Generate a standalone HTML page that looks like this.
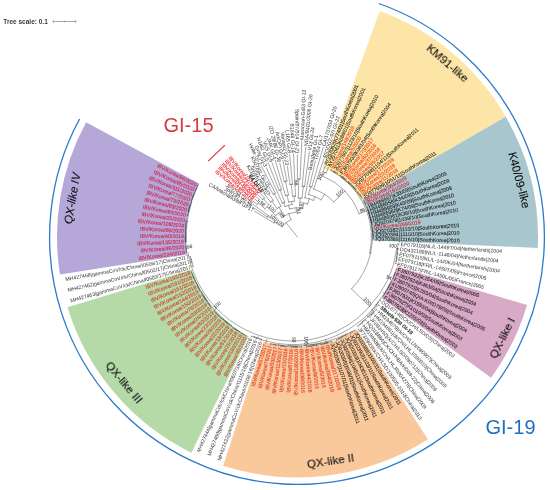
<!DOCTYPE html>
<html lang="en"><head><meta charset="utf-8"><title>Phylogenetic tree</title>
<style>html,body{margin:0;padding:0;background:#fff}svg{display:block}text{white-space:pre}</style></head>
<body>
<svg width="550" height="490" viewBox="0 0 550 490" role="img" aria-label="Circular phylogenetic tree">
<rect width="550" height="490" fill="#fff"/>
<defs><filter id="soft" x="-5%" y="-5%" width="110%" height="110%"><feGaussianBlur stdDeviation="0.5"/></filter></defs>
<g id="ranges">
<path d="M322.67 167.84L379.76 11A240.5 240.5 0 0 1 505.78 116.75L361.24 200.2A73.6 73.6 0 0 0 322.67 167.84Z" fill="#fce5a6"/>
<path d="M362.28 199.6L505.78 116.75A240.5 240.5 0 0 1 537.75 247.91L372.22 240.39A74.8 74.8 0 0 0 362.28 199.6Z" fill="#a8c6cd"/>
<path d="M397.41 266.59L527.04 304.99A239.4 239.4 0 0 1 491.18 377.72L381.8 298.25A104.2 104.2 0 0 0 397.41 266.59Z" fill="#d9a9c8"/>
<path d="M357.09 329.46L427.78 439.16A240.5 240.5 0 0 1 223.18 465.73L263.51 341.62A110 110 0 0 0 357.09 329.46Z" fill="#f9c99c"/>
<path d="M248.58 336.42L191.32 452.79A240.5 240.5 0 0 1 67.51 307.32L191.54 269.39A110.8 110.8 0 0 0 248.58 336.42Z" fill="#b6daa7"/>
<path d="M187.27 254.46L59.96 274.62A240.5 240.5 0 0 1 86.14 122.24L199.42 183.75A111.6 111.6 0 0 0 187.27 254.46Z" fill="#b5a8d9"/>
</g>
<path d="M378.77 3.5A247.4 247.4 0 1 1 79.58 118.95" fill="none" stroke="#2b7bcb" stroke-width="1.3"/>
<path id="branches" d="M273.91 222.86L254.61 211.29M267.52 217.07L252.53 207.1M268.49 215.69L253.17 204.44M267.52 217.07A36 36 0 0 1 268.49 215.69M274.96 221.24L268 216.37M273.91 222.86A27.5 27.5 0 0 1 274.96 221.24M281.98 226.94L274.42 222.04M257.08 204.29L253.19 201.14M257.53 201.44L254.92 199.11M259.24 199.61L256.73 197.16M257.53 201.44A53.5 53.5 0 0 1 259.24 199.61M259.47 201.54L258.37 200.51M257.08 204.29A52 52 0 0 1 259.47 201.54M265.04 208.8L258.25 202.89M262.73 199.69L258.64 195.3M264.51 198.1L260.63 193.53M262.73 199.69A51 51 0 0 1 264.51 198.1M268.93 204.86L263.61 198.89M265.04 208.8A43 43 0 0 1 268.93 204.86M275.81 215.56L266.92 206.77M270.64 202.15L263.32 192.64M267.72 194.37L267.72 194.37M269.74 193.03L268.14 190.49M267.72 194.37A52 52 0 0 1 269.74 193.03M273.15 200.35L268.72 193.69M270.64 202.15A44 44 0 0 1 273.15 200.35M277.12 208.55L271.88 201.23M273.31 194.39L269.36 187.43M275.33 193.3L261.44 165.92M273.31 194.39A49 49 0 0 1 275.33 193.3M280.94 206.17L274.31 193.83M277.12 208.55A35 35 0 0 1 280.94 206.17M281.37 211.11L278.99 207.29M275.81 215.56A30.5 30.5 0 0 1 281.37 211.11M281.89 217.47L278.46 213.17M282.32 203.26L266.32 167.69M279.14 190.49L268.02 162.31M281.34 189.68L272.29 163.19M279.14 190.49A50 50 0 0 1 281.34 189.68M284.72 202.28L280.24 190.08M282.32 203.26A37 37 0 0 1 284.72 202.28M285.03 206.45L283.51 202.75M285.52 195.7L275.21 160.17M284.19 181.57L279.83 163.39M286.8 181.01L282.86 160.39M284.19 181.57A57 57 0 0 1 286.8 181.01M288.44 194.96L285.49 181.28M285.52 195.7A43 43 0 0 1 288.44 194.96M288.69 202.1L286.97 195.31M290 184.53L287.39 166.32M292.46 184.24L289.6 154.38M290 184.53A53 53 0 0 1 292.46 184.24M292.65 196.29L291.22 184.37M295.51 196.05L293.47 154.1M292.65 196.29A41 41 0 0 1 295.51 196.05M294.49 201.13L294.08 196.14M288.69 202.1A36 36 0 0 1 294.49 201.13M292.06 204.45L291.57 201.49M285.03 206.45A33 33 0 0 1 292.06 204.45M289.5 208.81L288.49 205.25M297.4 179L297.36 155M300.11 179.06L301.82 141.1M297.4 179A58 58 0 0 1 300.11 179.06M298.34 198.01L298.76 179.01M302.18 186.21L305.75 147.38M304.54 186.49L309.38 151.82M302.18 186.21A51 51 0 0 1 304.54 186.49M301.98 198.26L303.36 186.34M298.34 198.01A39 39 0 0 1 301.98 198.26M299.86 202.58L300.17 198.09M304.87 197.69L309.85 171.15M309.46 186.39L315.44 161.09M311.82 187.01L323.1 147.59M309.46 186.39A52 52 0 0 1 311.82 187.01M308.62 194.43L310.64 186.69M313.69 189.06L323.74 159.31M322.97 171.8L325.08 166.39M325.97 173.05L328.33 167.75M322.97 171.8A70 70 0 0 1 325.97 173.05M322.93 176.1L324.48 172.41M331.07 170.16L331.52 169.26M334.34 171.44L334.63 170.92M337.35 173.23L337.67 172.72M334.34 171.44A75.2 75.2 0 0 1 337.35 173.23M335.65 172.66L335.86 172.32M331.07 170.16A74.8 74.8 0 0 1 335.65 172.66M333.14 171.81L333.38 171.37M340.16 175.31L340.62 174.66M343.17 177.13L343.47 176.73M345.9 179.32L346.22 178.93M343.17 177.13A75.3 75.3 0 0 1 345.9 179.32M344.36 178.44L344.55 178.21M340.16 175.31A75 75 0 0 1 344.36 178.44M342.05 177.16L342.29 176.84M348.53 181.63L348.87 181.26M351.05 184.07L351.41 183.71M348.53 181.63A75.3 75.3 0 0 1 351.05 184.07M349.67 182.98L349.81 182.83M353.46 186.61L353.83 186.28M355.74 189.27L356.13 188.96M353.46 186.61A75.3 75.3 0 0 1 355.74 189.27M354.46 188.06L354.62 187.93M349.67 182.98A75.1 75.1 0 0 1 354.46 188.06M351.98 185.6L352.13 185.46M357.82 192.09L358.3 191.74M360.09 194.78L360.34 194.61M361.99 197.74L362.25 197.58M360.09 194.78A75.5 75.5 0 0 1 361.99 197.74M360.81 196.41L361.06 196.25M357.82 192.09A75.2 75.2 0 0 1 360.81 196.41M359.1 194.4L359.35 194.23M351.98 185.6A74.9 74.9 0 0 1 359.1 194.4M355.48 190.05L355.71 189.86M342.05 177.16A74.6 74.6 0 0 1 355.48 190.05M348.96 183.4L349.17 183.19M333.14 171.81A74.3 74.3 0 0 1 348.96 183.4M341.26 177.32L341.43 177.08M363.85 200.76L364.11 200.62M365.49 203.95L365.76 203.82M363.85 200.76A75.6 75.6 0 0 1 365.49 203.95M364.33 202.53L364.69 202.35M366.98 207.21L367.26 207.09M368.41 210.5L368.6 210.43M369.59 213.89L369.78 213.83M368.41 210.5A75.7 75.7 0 0 1 369.59 213.89M368.92 212.22L369.02 212.19M366.98 207.21A75.6 75.6 0 0 1 368.92 212.22M367.9 209.73L368 209.7M370.5 217.36L370.79 217.28M371.45 220.82L371.65 220.78M372.13 224.34L372.33 224.31M371.45 220.82A75.7 75.7 0 0 1 372.13 224.34M371.72 222.6L371.81 222.58M370.5 217.36A75.6 75.6 0 0 1 371.72 222.6M371.06 219.99L371.16 219.97M367.9 209.73A75.5 75.5 0 0 1 371.06 219.99M369.52 214.85L369.66 214.81M372.45 227.92L372.85 227.87M372.95 231.47L373.2 231.45M373.22 235.05L373.37 235.05M373.23 238.64L373.38 238.64M373.22 235.05A75.75 75.75 0 0 1 373.23 238.64M373.15 236.85L373.25 236.85M372.95 231.47A75.65 75.65 0 0 1 373.15 236.85M372.95 234.16L373.1 234.16M372.45 227.92A75.5 75.5 0 0 1 372.95 234.16M372.61 231.05L372.76 231.04M369.52 214.85A75.35 75.35 0 0 1 372.61 231.05M371.36 222.89L371.51 222.86M364.33 202.53A75.2 75.2 0 0 1 371.36 222.89M368.39 212.52L368.58 212.46M398.06 244.01L399.25 244.1M397.9 248.92L398.79 249.02M397.49 253.82L398.09 253.92M396.85 258.72L397.15 258.78M395.68 263.51L395.97 263.59M396.85 258.72A101.7 101.7 0 0 1 395.68 263.51M396.01 261.05L396.3 261.12M397.49 253.82A101.4 101.4 0 0 1 396.01 261.05M396.52 257.39L396.82 257.45M397.9 248.92A101.1 101.1 0 0 1 396.52 257.39M397 253.12L397.3 253.17M398.06 244.01A100.8 100.8 0 0 1 397 253.12M396.74 248.48L397.63 248.58M396.42 268.94L396.66 269.01M394.85 273.74L394.99 273.8M392.95 278.43L393.08 278.49M394.85 273.74A104.05 104.05 0 0 1 392.95 278.43M393.83 276.06L393.92 276.1M396.42 268.94A103.95 103.95 0 0 1 393.83 276.06M395.1 272.49L395.19 272.52M390.8 283.01L390.95 283.09M388.46 287.49L388.6 287.57M390.8 283.01A104.03 104.03 0 0 1 388.46 287.49M389.58 285.23L389.66 285.27M385.89 291.85L386.04 291.94M383.12 296.08L383.26 296.18M385.89 291.85A104.03 104.03 0 0 1 383.12 296.08M384.47 293.94L384.53 293.98M389.58 285.23A103.95 103.95 0 0 1 384.47 293.94M387.05 289.6L387.13 289.65M395.1 272.49A103.85 103.85 0 0 1 387.05 289.6M391.33 281.16L391.46 281.23M380.28 300.12L381 300.67M378.42 304.84L380.11 306.26M376.38 309.6L377.48 310.61M373.22 313.45L373.99 314.23M369.6 316.87L370.34 317.68M373.22 313.45A107.6 107.6 0 0 1 369.6 316.87M371.16 314.89L371.43 315.18M376.38 309.6A107.2 107.2 0 0 1 371.16 314.89M373.39 311.87L373.81 312.29M365.58 319.81L366.53 320.97M361.92 323.19L362.58 324.07M357.86 326.07L358.48 326.98M361.92 323.19A107.6 107.6 0 0 1 357.86 326.07M359.68 324.33L359.91 324.65M365.58 319.81A107.2 107.2 0 0 1 359.68 324.33M362.3 321.64L362.67 322.12M373.39 311.87A106.6 106.6 0 0 1 362.3 321.64M367.35 316.2L368.01 316.95M378.42 304.84A105.6 105.6 0 0 1 367.35 316.2M372.03 309.68L373.1 310.73M380.28 300.12A104.1 104.1 0 0 1 372.03 309.68M376 304.76L376.3 305.03M391.33 281.16A103.7 103.7 0 0 1 376 304.76M383.04 292.56L384.47 293.49M266.93 339.12L265.73 343.15M354.65 330.4L355.07 331.08M350.23 332.97L350.62 333.67M354.65 330.4A109.5 109.5 0 0 1 350.23 332.97M352.31 331.45L352.46 331.71M345.7 335.32L346.05 336.04M341.18 337.74L341.38 338.2M336.43 339.67L336.61 340.13M341.18 337.74A109.8 109.8 0 0 1 336.43 339.67M338.71 338.45L338.82 338.73M345.7 335.32A109.5 109.5 0 0 1 338.71 338.45M342.11 336.67L342.23 336.95M352.31 331.45A109.2 109.2 0 0 1 342.11 336.67M347 333.66L347.28 334.2M331.6 341.37L331.76 341.85M326.78 343.14L326.96 343.81M321.79 344.39L321.95 345.07M326.78 343.14A110.1 110.1 0 0 1 321.79 344.39M324.22 343.5L324.29 343.79M331.6 341.37A109.8 109.8 0 0 1 324.22 343.5M327.85 342.21L327.93 342.5M316.71 345.11L316.88 346.09M311.68 346.18L311.77 346.88M306.57 346.73L306.63 347.42M311.68 346.18A110.1 110.1 0 0 1 306.57 346.73M309.1 346.19L309.13 346.48M316.71 345.11A109.8 109.8 0 0 1 309.1 346.19M312.87 345.42L312.91 345.71M327.85 342.21A109.5 109.5 0 0 1 312.87 345.42M320.31 343.59L320.41 344.08M301.43 346.73L301.47 347.73M296.31 347.09L296.3 347.79M291.17 346.92L291.13 347.62M296.31 347.09A110.1 110.1 0 0 1 291.17 346.92M293.75 346.74L293.74 347.04M301.43 346.73A109.8 109.8 0 0 1 293.75 346.74M297.59 346.5L297.59 346.8M286.05 346.5L285.98 347.2M280.96 345.85L280.85 346.54M286.05 346.5A110.1 110.1 0 0 1 280.96 345.85M283.54 345.91L283.5 346.21M275.9 344.96L275.76 345.65M270.88 343.83L270.71 344.51M275.9 344.96A110.1 110.1 0 0 1 270.88 343.83M273.45 344.13L273.38 344.43M283.54 345.91A109.8 109.8 0 0 1 273.45 344.13M278.53 344.84L278.47 345.14M297.59 346.5A109.5 109.5 0 0 1 278.53 344.84M288.06 345.59L288.02 346.09M320.31 343.59A109 109 0 0 1 288.06 345.59M304.24 345.39L304.26 345.79M347 333.66A108.6 108.6 0 0 1 304.24 345.39M325.7 339.8L326.23 341.73M261.52 339.36L260.92 341.06M256.38 338.27L256 339.2M251.6 336.19L251.18 337.1M256.38 338.27A109.3 109.3 0 0 1 251.6 336.19M254.29 336.53L253.98 337.26M261.52 339.36A108.5 108.5 0 0 1 254.29 336.53M258.32 336.89L257.88 338.01M246.06 335.81L245.88 336.17M241.63 333.38L241.43 333.72M246.06 335.81A111.4 111.4 0 0 1 241.63 333.38M243.95 334.4L243.83 334.62M237.32 330.74L237.1 331.08M233.13 327.92L232.9 328.24M237.32 330.74A111.4 111.4 0 0 1 233.13 327.92M235.35 329.15L235.21 329.35M243.95 334.4A111.15 111.15 0 0 1 235.35 329.15M239.72 331.66L239.59 331.87M229.07 324.9L228.82 325.22M225.15 321.71L224.89 322.01M229.07 324.9A111.4 111.4 0 0 1 225.15 321.71M227.25 323.14L227.09 323.33M221.38 318.34L221.11 318.63M217.59 314.98L217.49 315.08M214.14 311.27L214.03 311.37M217.59 314.98A111.65 111.65 0 0 1 214.14 311.27M216.03 312.97L215.84 313.15M221.38 318.34A111.4 111.4 0 0 1 216.03 312.97M218.84 315.53L218.66 315.7M227.25 323.14A111.15 111.15 0 0 1 218.84 315.53M223.11 319.25L222.95 319.44M239.72 331.66A110.9 110.9 0 0 1 223.11 319.25M231.37 325.52L231.13 325.84M211.05 307.26L210.74 307.51M207.95 303.26L207.63 303.5M211.05 307.26A111.4 111.4 0 0 1 207.95 303.26M209.67 305.12L209.48 305.28M205.04 299.13L204.7 299.36M202.31 294.87L201.97 295.08M205.04 299.13A111.4 111.4 0 0 1 202.31 294.87M203.86 296.88L203.65 297.02M209.67 305.12A111.15 111.15 0 0 1 203.86 296.88M206.88 300.93L206.67 301.07M199.79 290.5L199.44 290.69M197.46 286.01L197.1 286.19M199.79 290.5A111.4 111.4 0 0 1 197.46 286.01M198.82 288.15L198.6 288.27M195.34 281.42L194.97 281.58M193.2 276.83L193.06 276.88M191.5 272.06L191.35 272.1M193.2 276.83A111.65 111.65 0 0 1 191.5 272.06M192.55 274.37L192.32 274.45M195.34 281.42A111.4 111.4 0 0 1 192.55 274.37M194.12 277.83L193.89 277.92M198.82 288.15A111.15 111.15 0 0 1 194.12 277.83M196.57 282.95L196.34 283.05M206.88 300.93A110.9 110.9 0 0 1 196.57 282.95M201.65 291.98L201.3 292.18M231.37 325.52A110.5 110.5 0 0 1 201.65 291.98M216.21 309.01L214.79 310.27M193.03 266.3L192.26 266.52M191.29 261.52L191 261.59M190.27 256.55L189.97 256.61M191.29 261.52A109 109 0 0 1 190.27 256.55M191.24 258.94L190.75 259.04M193.03 266.3A108.5 108.5 0 0 1 191.24 258.94M190.03 263.13L192.07 262.64M186.5 251.93L186.1 251.98M185.92 246.73L185.52 246.76M186.5 251.93A112 112 0 0 1 185.92 246.73M186.38 249.31L186.18 249.33M185.39 241.51L185.19 241.52M185.3 236.27L185.1 236.26M185.39 241.51A112.2 112.2 0 0 1 185.3 236.27M185.52 238.88L185.32 238.89M185.46 231.02L185.26 231.01M185.66 225.77L185.66 225.77M186.31 220.56L186.31 220.56M185.66 225.77A112.4 112.4 0 0 1 186.31 220.56M186.15 223.19L185.95 223.16M185.46 231.02A112.2 112.2 0 0 1 186.15 223.19M185.94 227.12L185.74 227.1M185.52 238.88A112 112 0 0 1 185.94 227.12M185.77 233L185.57 233M186.38 249.31A111.8 111.8 0 0 1 185.77 233M186.18 241.15L185.78 241.17M187.59 215.46L187.2 215.38M188.52 210.3L188.33 210.25M189.89 205.23L189.7 205.18M188.52 210.3A112.2 112.2 0 0 1 189.89 205.23M189.37 207.81L189.18 207.76M187.59 215.46A112 112 0 0 1 189.37 207.81M188.61 211.66L188.41 211.62M191.49 200.24L191.3 200.17M193.33 195.33L193.14 195.25M191.49 200.24A112.2 112.2 0 0 1 193.33 195.33M192.57 197.84L192.38 197.77M195.39 190.5L195.21 190.42M197.67 185.78L197.49 185.69M195.39 190.5A112.2 112.2 0 0 1 197.67 185.78M196.68 188.22L196.5 188.13M192.57 197.84A112 112 0 0 1 196.68 188.22M194.7 193.06L194.51 192.98M188.61 211.66A111.8 111.8 0 0 1 194.7 193.06M191.62 202.35L191.24 202.23M186.18 241.15A111.4 111.4 0 0 1 191.62 202.35M187.97 221.62L187.18 221.51M396.74 248.48A99.9 99.9 0 0 1 369.48 306.28M351.54 289.01L369.48 306.28M368.39 212.52A75 75 0 0 1 351.54 289.01M369.77 252.93L370.74 253.14M341.26 177.32A74 74 0 0 1 369.77 252.93M359.26 213.71L366.74 210.89M322.93 176.1A66 66 0 0 1 359.26 213.71M333.9 201.85L344.98 191.16M313.69 189.06A50.6 50.6 0 0 1 333.9 201.85M321.03 199.82L324.56 194.24M308.62 194.43A44 44 0 0 1 321.03 199.82M313.44 200.31L315.03 196.64M304.87 197.69A40 40 0 0 1 313.44 200.31M307.62 204.02L309.23 198.76M299.86 202.58A34.5 34.5 0 0 1 307.62 204.02M302.83 208.19L303.78 203.08M289.5 208.81A29.3 29.3 0 0 1 302.83 208.19M296.33 212.03L296.13 207.73M281.89 217.47A25 25 0 0 1 296.33 212.03M290.98 219.69L288.68 213.61M281.98 226.94A18.5 18.5 0 0 1 290.98 219.69M297.5 237L285.89 222.59M371.15 304.49L368.85 307.17L366.44 309.77L363.94 312.28L361.35 314.71L358.67 317.05L355.9 319.3L353.05 321.45L350.12 323.5L347.12 325.45L344.04 327.3L340.89 329.04L337.68 330.67L334.41 332.19L331.08 333.59L327.7 334.88L324.27 336.05L320.8 337.09L317.28 338.02L313.73 338.82L310.14 339.5L306.53 340.05L302.89 340.47L299.24 340.77L295.57 340.93L291.89 340.97L288.21 340.87L284.53 340.65L280.85 340.29L277.18 339.81L273.53 339.19L269.89 338.44L266.27 337.56L262.69 336.56L259.13 335.42L255.61 334.16L252.14 332.78L248.71 331.26L245.33 329.63L242 327.87L238.73 326L235.53 324.01L232.39 321.9L229.33 319.68L226.34 317.34L223.43 314.9L220.61 312.36L217.87 309.71L215.22 306.96L212.67 304.12L210.22 301.18L207.87 298.15L205.62 295.04L203.48 291.85L201.46 288.57L199.55 285.22L197.75 281.8L196.07 278.32L194.52 274.77L193.09 271.16L191.79 267.5L190.61 263.79L189.57 260.03L188.66 256.24L187.88 252.41M377.17 303.85L374.89 306.68L372.51 309.44L370.03 312.11L367.46 314.7L364.8 317.2L362.04 319.61L359.2 321.92L356.28 324.14L353.27 326.26L350.19 328.27L347.04 330.18L343.82 331.97L340.53 333.66L337.19 335.23L333.78 336.69L330.32 338.02L326.82 339.24L323.26 340.34L319.67 341.31L316.04 342.16L312.38 342.88L308.69 343.47L304.98 343.93L301.25 344.27L297.5 344.47L293.74 344.55L289.98 344.49L286.22 344.3L282.47 343.98L278.72 343.52L274.98 342.94L271.26 342.22L267.57 341.38L263.9 340.4L260.27 339.3L256.67 338.06" fill="none" stroke="#3a3a3a" stroke-width="0.45" stroke-linecap="square"/>
<g id="support" font-family="'Liberation Sans', Arial, sans-serif" font-size="5" fill="#222">
<text transform="translate(268.82 216.94) rotate(34.96)" text-anchor="start" dy="-0.6">100</text>
<text transform="translate(275.26 222.59) rotate(32.95)" text-anchor="start" dy="-0.6">100</text>
<text transform="translate(259 203.55) rotate(40.99)" text-anchor="start" dy="-0.6">98</text>
<text transform="translate(267.63 207.47) rotate(44.68)" text-anchor="start" dy="-0.6">100</text>
<text transform="translate(279.09 213.95) rotate(51.38)" text-anchor="start" dy="-0.6">98</text>
<text transform="translate(298.73 180.01) rotate(271.24)" text-anchor="end" dy="-0.6">99</text>
<text transform="translate(324.09 173.33) rotate(292.67)" text-anchor="end" dy="-0.6">100</text>
<text transform="translate(396.64 248.46) rotate(6.6)" text-anchor="end" dy="-0.6">100</text>
<text transform="translate(390.56 280.8) rotate(25.21)" text-anchor="end" dy="-0.6">94</text>
<text transform="translate(304.2 344.79) rotate(86.44)" text-anchor="end" dy="-0.6">100</text>
<text transform="translate(296.28 342.59) rotate(-89.34)" text-anchor="start" dy="-0.6">95</text>
<text transform="translate(215.54 309.61) rotate(-41.54)" text-anchor="start" dy="-0.6">100</text>
<text transform="translate(187.17 249.22) rotate(-6.32)" text-anchor="start" dy="-0.6">96</text>
<text transform="translate(368.76 305.58) rotate(43.91)" text-anchor="end" dy="-0.6">100</text>
<text transform="translate(365.81 211.24) rotate(339.34)" text-anchor="end" dy="-0.6">96</text>
<text transform="translate(344.26 191.85) rotate(316)" text-anchor="end" dy="-0.6">100</text>
<text transform="translate(303.6 204.06) rotate(280.49)" text-anchor="end" dy="-0.6">59</text>
<text transform="translate(296.18 208.73) rotate(87.32)" text-anchor="start" dy="-0.6">81</text>
</g>
<g id="labels" filter="url(#soft)" stroke-width="0.05" stroke="#1a1a1a" fill="#1a1a1a" font-family="'Liberation Sans', Arial, sans-serif" font-size="5.2">
<text transform="translate(253.5 210.62) rotate(30.94)" text-anchor="end" dy="1.8" fill="#333" stroke="none">CA/Machado/88 GI-17</text>
<text transform="translate(251.45 206.38) rotate(33.62)" text-anchor="end" dy="1.8" fill="#333" stroke="none">JP8147 GI-18</text>
<text transform="translate(252.13 203.67) rotate(36.3)" text-anchor="end" dy="1.8" fill="#333" stroke="none">JP9758 GI-18</text>
<text transform="translate(252.18 200.33) rotate(38.98)" text-anchor="end" dy="1.8" fill="#ee2e33" stroke="#ee2e33" stroke-width="0.12">IBV/Korea/240/2019</text>
<text transform="translate(253.94 198.25) rotate(41.66)" text-anchor="end" dy="1.8" fill="#ee2e33" stroke="#ee2e33" stroke-width="0.12">IBV/Korea/129/2019</text>
<text transform="translate(255.8 196.25) rotate(44.34)" text-anchor="end" dy="1.8" fill="#ee2e33" stroke="#ee2e33" stroke-width="0.12">IBV/Korea/236/2020</text>
<text transform="translate(257.75 194.35) rotate(47.02)" text-anchor="end" dy="1.8" fill="#ee2e33" stroke="#ee2e33" stroke-width="0.12">IBV/Korea/231/2020</text>
<text transform="translate(259.79 192.54) rotate(49.7)" text-anchor="end" dy="1.8" fill="#ee2e33" stroke="#ee2e33" stroke-width="0.12">IBV/Korea/107/2020</text>
<text transform="translate(262.52 191.61) rotate(52.38)" text-anchor="end" dy="1.8" font-weight="bold">B4 GI-15</text>
<text transform="translate(266.97 193.31) rotate(55.06)" text-anchor="end" dy="1.8" fill="#333" stroke="none">K210/01 GI-15</text>
<text transform="translate(267.45 189.39) rotate(57.74)" text-anchor="end" dy="1.8" fill="#333" stroke="none">K2/01 GI-15</text>
<text transform="translate(268.72 186.3) rotate(60.42)" text-anchor="end" dy="1.8" fill="#333" stroke="none">K507/01 GI-15</text>
<text transform="translate(260.85 164.76) rotate(63.1)" text-anchor="end" dy="1.8" fill="#333" stroke="none">Holte GI-2</text>
<text transform="translate(265.79 166.5) rotate(65.78)" text-anchor="end" dy="1.8" fill="#333" stroke="none">Gray GI-3</text>
<text transform="translate(267.54 161.1) rotate(68.46)" text-anchor="end" dy="1.8" fill="#333" stroke="none">N1/62 GI-5</text>
<text transform="translate(271.87 161.96) rotate(71.14)" text-anchor="end" dy="1.8" fill="#333" stroke="none">VicS GI-6</text>
<text transform="translate(274.85 158.92) rotate(73.82)" text-anchor="end" dy="1.8" fill="#333" stroke="none">JMK GI-4</text>
<text transform="translate(279.52 162.13) rotate(76.5)" text-anchor="end" dy="1.8" fill="#333" stroke="none">IZO 28/86 GI-16</text>
<text transform="translate(282.61 159.11) rotate(79.18)" text-anchor="end" dy="1.8" fill="#333" stroke="none">ArkDPI GI-9</text>
<text transform="translate(287.21 165.03) rotate(81.86)" text-anchor="end" dy="1.8" fill="#333" stroke="none">Variant2 GI-23</text>
<text transform="translate(289.48 153.08) rotate(84.54)" text-anchor="end" dy="1.8" fill="#333" stroke="none">L165 GI-8</text>
<text transform="translate(293.41 152.8) rotate(87.22)" text-anchor="end" dy="1.8" fill="#333" stroke="none">B1648 GI-14</text>
<text transform="translate(297.35 153.7) rotate(89.9)" text-anchor="end" dy="1.8" fill="#333" stroke="none">Spain/97/314 GI-21</text>
<text transform="translate(301.88 139.8) rotate(272.58)" dy="1.8" fill="#333" stroke="none">Moroccan-G/83 GI-13</text>
<text transform="translate(305.87 146.08) rotate(275.26)" dy="1.8" fill="#333" stroke="none">NGA/B401/2006 GI-26</text>
<text transform="translate(309.56 150.54) rotate(277.94)" dy="1.8" fill="#333" stroke="none">V13 GI-24</text>
<text transform="translate(310.09 169.87) rotate(280.62)" dy="1.8" fill="#333" stroke="none">Beaudette GI-1</text>
<text transform="translate(315.74 159.83) rotate(283.3)" dy="1.8" fill="#333" stroke="none">TP/64 GI-7</text>
<text transform="translate(323.46 146.34) rotate(285.98)" dy="1.8" fill="#333" stroke="none">CA/1737/04 GI-25</text>
<text transform="translate(324.15 158.08) rotate(288.66)" dy="1.8" fill="#333" stroke="none">40GDGZ-97I GI-22</text>
<text transform="translate(325.55 165.18) rotate(291.33)" dy="1.8" stroke-width="0.07">AY257062|K774/01|SouthKorea|2001</text>
<text transform="translate(328.86 166.57) rotate(294)" dy="1.8" stroke-width="0.07">AY257061|K069/01|SouthKorea|2001</text>
<text transform="translate(332.1 168.1) rotate(296.67)" dy="1.8" fill="#ec4a24" stroke="#ec4a24" stroke-width="0.14">IBV/Korea/148/2019</text>
<text transform="translate(335.27 169.79) rotate(299.33)" dy="1.8" stroke-width="0.07">JQ977697|1123/10|SouthKorea|2010</text>
<text transform="translate(338.36 171.62) rotate(302)" dy="1.8" fill="#ec4a24" stroke="#ec4a24" stroke-width="0.14">IBV/Korea/5/2020</text>
<text transform="translate(341.35 173.59) rotate(304.67)" dy="1.8" stroke-width="0.07">FJ807932|K081/04|SouthKorea|2004</text>
<text transform="translate(344.26 175.7) rotate(307.33)" dy="1.8" fill="#ec4a24" stroke="#ec4a24" stroke-width="0.14">IBV/Korea/173/2017</text>
<text transform="translate(347.06 177.94) rotate(310)" dy="1.8" fill="#ec4a24" stroke="#ec4a24" stroke-width="0.14">IBV/Korea/80/2016</text>
<text transform="translate(349.75 180.31) rotate(312.67)" dy="1.8" fill="#ec4a24" stroke="#ec4a24" stroke-width="0.14">IBV/Korea/37/2016</text>
<text transform="translate(352.33 182.8) rotate(315.33)" dy="1.8" fill="#ec4a24" stroke="#ec4a24" stroke-width="0.14">IBV/Korea/55/2017</text>
<text transform="translate(354.8 185.41) rotate(318)" dy="1.8" stroke-width="0.07">JQ977698|1104/11|SouthKorea|2011</text>
<text transform="translate(357.13 188.13) rotate(320.67)" dy="1.8" fill="#ec4a24" stroke="#ec4a24" stroke-width="0.14">IBV/Korea/177/2018</text>
<text transform="translate(359.34 190.96) rotate(323.33)" dy="1.8" fill="#ec4a24" stroke="#ec4a24" stroke-width="0.14">IBV/Korea/22/2018</text>
<text transform="translate(361.42 193.89) rotate(326)" dy="1.8" fill="#ec4a24" stroke="#ec4a24" stroke-width="0.14">IBV/Korea/11/2018</text>
<text transform="translate(363.36 196.91) rotate(328.67)" dy="1.8" stroke-width="0.07">JQ977699|1051/11|SouthKorea|2011</text>
<text transform="translate(365.25 200) rotate(331.36)" dy="1.8" fill="#d03045" stroke="#d03045" stroke-width="0.14">IBV/Korea/264/2019</text>
<text transform="translate(366.93 203.25) rotate(334.07)" dy="1.8" fill="#d03045" stroke="#d03045" stroke-width="0.14">IBV/Korea/181/2020</text>
<text transform="translate(368.45 206.58) rotate(336.79)" dy="1.8" stroke-width="0.07">HM486957|K33/09|SouthKorea|2009</text>
<text transform="translate(369.82 209.97) rotate(339.51)" dy="1.8" stroke-width="0.07">HM486958|K34/09|SouthKorea|2009</text>
<text transform="translate(371.01 213.43) rotate(342.23)" dy="1.8" stroke-width="0.07">HM486959|K40/09|SouthKorea|2009</text>
<text transform="translate(372.05 216.94) rotate(344.94)" dy="1.8" stroke-width="0.07">HM486960|K74/09|SouthKorea|2010</text>
<text transform="translate(372.92 220.5) rotate(347.66)" dy="1.8" stroke-width="0.07">HM486961|K38/10|SouthKorea|2010</text>
<text transform="translate(373.61 224.09) rotate(350.38)" dy="1.8" stroke-width="0.07">JQ920379|1038/10|SouthKorea|2010</text>
<text transform="translate(374.14 227.71) rotate(353.09)" dy="1.8" fill="#d03045" stroke="#d03045" stroke-width="0.14">IBV/Korea/269/2019</text>
<text transform="translate(374.49 231.36) rotate(355.81)" dy="1.8" stroke-width="0.07">JQ920382|1110/10|SouthKorea|2010</text>
<text transform="translate(374.67 235.01) rotate(358.53)" dy="1.8" stroke-width="0.07">JQ920384|1115/10|SouthKorea|2010</text>
<text transform="translate(374.68 238.67) rotate(1.24)" dy="1.8" stroke-width="0.07">JQ920385|1116/10|SouthKorea|2010</text>
<text transform="translate(400.55 244.19) rotate(3.99)" dy="1.8" fill="#333" stroke="none">EF079116|NL/L-1449T/04|Netherlands|2004</text>
<text transform="translate(400.08 249.18) rotate(6.77)" dy="1.8" fill="#333" stroke="none">DQ431199|NL/L-1148/04|Netherlands|2004</text>
<text transform="translate(399.37 254.14) rotate(9.55)" dy="1.8" fill="#333" stroke="none">EF079115|NL/L-1449K/04|Netherlands|2004</text>
<text transform="translate(398.42 259.06) rotate(12.33)" dy="1.8" fill="#333" stroke="none">EF079118|FR/L-1450T/05|France|2005</text>
<text transform="translate(397.23 263.93) rotate(15.11)" dy="1.8" fill="#333" stroke="none">EF079117|FR/L-1450L/05|France|2005</text>
<text transform="translate(397.9 269.41) rotate(17.89)" dy="1.8" stroke-width="0.07">FJ807922|K154/05|SouthKorea|2005</text>
<text transform="translate(396.2 274.25) rotate(20.68)" dy="1.8" stroke-width="0.07">FJ807924|K463/04|SouthKorea|2004</text>
<text transform="translate(394.28 279.01) rotate(23.46)" dy="1.8" stroke-width="0.07">FJ807923|K283/04|SouthKorea|2004</text>
<text transform="translate(392.12 283.66) rotate(26.25)" dy="1.8" stroke-width="0.07">KU900740|QIA-KR/D79/05|SouthKorea|2005</text>
<text transform="translate(389.74 288.2) rotate(29.04)" dy="1.8" stroke-width="0.07">FJ807931|K1583/04|SouthKorea|2004</text>
<text transform="translate(387.14 292.63) rotate(31.82)" dy="1.8" stroke-width="0.07">FJ807927|K1019/03|SouthKorea|2003</text>
<text transform="translate(384.33 296.92) rotate(34.61)" dy="1.8" stroke-width="0.07">FJ807928|K1255/03|SouthKorea|2003</text>
<text transform="translate(382.03 301.45) rotate(37.32)" dy="1.8" fill="#333" stroke="none">DQ167148|CK/CH/LSD/03I|China|2003</text>
<text transform="translate(381.11 307.09) rotate(39.98)" dy="1.8" font-weight="bold">58HeN-93II GI-19</text>
<text transform="translate(378.44 311.49) rotate(42.62)" dy="1.8" fill="#333" stroke="none">HM194679|ck/CH/LLN/090907|China|2009</text>
<text transform="translate(374.91 315.15) rotate(45.27)" dy="1.8" fill="#333" stroke="none">HM194681|ck/CH/LHLJ/090910|China|2009</text>
<text transform="translate(371.21 318.65) rotate(47.93)" dy="1.8" fill="#333" stroke="none">JF893452|ck/CH/LSD/090712|China|2009</text>
<text transform="translate(367.36 321.97) rotate(50.57)" dy="1.8" fill="#333" stroke="none">HQ018884|CK/CH/HBA/HD09-22|China|2009</text>
<text transform="translate(363.35 325.11) rotate(53.22)" dy="1.8" fill="#333" stroke="none">HM194688|ck/CH/LHLJ/090427II|China|2009</text>
<text transform="translate(359.21 328.06) rotate(55.88)" dy="1.8" fill="#333" stroke="none">JF732903|ck/CH/LSD/100505-2010|China|2010</text>
<text transform="translate(355.75 332.19) rotate(58.54)" dy="1.8" stroke-width="0.07">JQ920389|1109/11|SouthKorea|2011</text>
<text transform="translate(351.25 334.81) rotate(61.21)" dy="1.8" stroke-width="0.07">JQ920390|1103/11|SouthKorea|2011</text>
<text transform="translate(346.62 337.21) rotate(63.88)" dy="1.8" stroke-width="0.07">JQ920393|1043/11|SouthKorea|2011</text>
<text transform="translate(341.9 339.39) rotate(66.56)" dy="1.8" stroke-width="0.07">JQ920394|1045/11|SouthKorea|2011</text>
<text transform="translate(337.07 341.35) rotate(69.23)" dy="1.8" stroke-width="0.07">JQ920395|1038/11|SouthKorea|2011</text>
<text transform="translate(332.16 343.08) rotate(71.91)" dy="1.8" stroke-width="0.07">JQ920397|1107/11|SouthKorea|2011</text>
<text transform="translate(327.31 345.06) rotate(74.58)" dy="1.8" fill="#e2452b" stroke="#e2452b" stroke-width="0.14">IBV/Korea/217/2018</text>
<text transform="translate(322.24 346.34) rotate(77.25)" dy="1.8" fill="#e2452b" stroke="#e2452b" stroke-width="0.14">IBV/Korea/064/2018</text>
<text transform="translate(317.11 347.37) rotate(79.93)" dy="1.8" fill="#e2452b" stroke="#e2452b" stroke-width="0.14">IBV/Korea/5/2016</text>
<text transform="translate(311.94 348.17) rotate(82.6)" dy="1.8" fill="#e2452b" stroke="#e2452b" stroke-width="0.14">IBV/Korea/9/2016</text>
<text transform="translate(306.74 348.72) rotate(85.27)" dy="1.8" fill="#e2452b" stroke="#e2452b" stroke-width="0.14">IBV/Korea/44/2016</text>
<text transform="translate(301.52 349.03) rotate(87.95)" dy="1.8" fill="#e2452b" stroke="#e2452b" stroke-width="0.14">IBV/Korea/38/2016</text>
<text transform="translate(296.28 349.09) rotate(-89.38)" text-anchor="end" dy="1.8" fill="#e2452b" stroke="#e2452b" stroke-width="0.14">IBV/Korea/165/2016</text>
<text transform="translate(291.06 348.91) rotate(-86.71)" text-anchor="end" dy="1.8" fill="#e2452b" stroke="#e2452b" stroke-width="0.14">IBV/Korea/87/2016</text>
<text transform="translate(285.84 348.49) rotate(-84.03)" text-anchor="end" dy="1.8" fill="#e2452b" stroke="#e2452b" stroke-width="0.14">IBV/Korea/73/2016</text>
<text transform="translate(280.66 347.83) rotate(-81.36)" text-anchor="end" dy="1.8" fill="#e2452b" stroke="#e2452b" stroke-width="0.14">IBV/Korea/113/2017</text>
<text transform="translate(275.5 346.92) rotate(-78.68)" text-anchor="end" dy="1.8" fill="#e2452b" stroke="#e2452b" stroke-width="0.14">IBV/Korea/33/2017</text>
<text transform="translate(270.4 345.78) rotate(-76.01)" text-anchor="end" dy="1.8" fill="#e2452b" stroke="#e2452b" stroke-width="0.14">IBV/Korea/76/2017</text>
<text transform="translate(265.36 344.39) rotate(-73.34)" text-anchor="end" dy="1.8" fill="#e2452b" stroke="#e2452b" stroke-width="0.14">IBV/Korea/37/2017</text>
<text transform="translate(260.49 342.29) rotate(-70.63)" text-anchor="end" dy="1.8" fill="#333" stroke="none">MH427432|gammaCoV/ck/China/I0108/16|China|2016</text>
<text transform="translate(255.51 340.4) rotate(-67.9)" text-anchor="end" dy="1.8" fill="#333" stroke="none">MH427460|gammaCoV/ck/China/I1115/16|China|2016</text>
<text transform="translate(250.63 338.28) rotate(-65.17)" text-anchor="end" dy="1.8" fill="#333" stroke="none">MH427444|gammaCoV/ck/China/I0607/16|China|2016</text>
<text transform="translate(245.28 337.32) rotate(-62.5)" text-anchor="end" dy="1.8" fill="#cc4a34" stroke="#cc4a34" stroke-width="0.14">IBV/Korea/40/2020</text>
<text transform="translate(240.78 334.85) rotate(-59.9)" text-anchor="end" dy="1.8" fill="#cc4a34" stroke="#cc4a34" stroke-width="0.14">IBV/Korea/183/2018</text>
<text transform="translate(236.4 332.17) rotate(-57.3)" text-anchor="end" dy="1.8" fill="#cc4a34" stroke="#cc4a34" stroke-width="0.14">IBV/Korea/25/2018</text>
<text transform="translate(232.14 329.31) rotate(-54.7)" text-anchor="end" dy="1.8" fill="#cc4a34" stroke="#cc4a34" stroke-width="0.14">IBV/Korea/61/2018</text>
<text transform="translate(228.02 326.25) rotate(-52.1)" text-anchor="end" dy="1.8" fill="#cc4a34" stroke="#cc4a34" stroke-width="0.14">IBV/Korea/18/2018</text>
<text transform="translate(224.05 323) rotate(-49.5)" text-anchor="end" dy="1.8" fill="#cc4a34" stroke="#cc4a34" stroke-width="0.14">IBV/Korea/22/2019</text>
<text transform="translate(220.22 319.58) rotate(-46.9)" text-anchor="end" dy="1.8" fill="#cc4a34" stroke="#cc4a34" stroke-width="0.14">IBV/Korea/29/2018</text>
<text transform="translate(216.56 315.99) rotate(-44.3)" text-anchor="end" dy="1.8" fill="#cc4a34" stroke="#cc4a34" stroke-width="0.14">IBV/Korea/23/2018</text>
<text transform="translate(213.06 312.24) rotate(-41.7)" text-anchor="end" dy="1.8" fill="#cc4a34" stroke="#cc4a34" stroke-width="0.14">IBV/Korea/60/2019</text>
<text transform="translate(209.73 308.33) rotate(-39.1)" text-anchor="end" dy="1.8" fill="#cc4a34" stroke="#cc4a34" stroke-width="0.14">IBV/Korea/24/2019</text>
<text transform="translate(206.58 304.27) rotate(-36.5)" text-anchor="end" dy="1.8" fill="#cc4a34" stroke="#cc4a34" stroke-width="0.14">IBV/Korea/28/2019</text>
<text transform="translate(203.63 300.08) rotate(-33.9)" text-anchor="end" dy="1.8" fill="#cc4a34" stroke="#cc4a34" stroke-width="0.14">IBV/Korea/76/2019</text>
<text transform="translate(200.86 295.76) rotate(-31.3)" text-anchor="end" dy="1.8" fill="#cc4a34" stroke="#cc4a34" stroke-width="0.14">IBV/Korea/150/2019</text>
<text transform="translate(198.29 291.31) rotate(-28.7)" text-anchor="end" dy="1.8" fill="#cc4a34" stroke="#cc4a34" stroke-width="0.14">IBV/Korea/144/2019</text>
<text transform="translate(195.93 286.76) rotate(-26.1)" text-anchor="end" dy="1.8" fill="#cc4a34" stroke="#cc4a34" stroke-width="0.14">IBV/Korea/152/2018</text>
<text transform="translate(193.78 282.1) rotate(-23.5)" text-anchor="end" dy="1.8" fill="#cc4a34" stroke="#cc4a34" stroke-width="0.14">IBV/Korea/151/2018</text>
<text transform="translate(191.84 277.35) rotate(-20.9)" text-anchor="end" dy="1.8" fill="#cc4a34" stroke="#cc4a34" stroke-width="0.14">IBV/Korea/191/2018</text>
<text transform="translate(190.12 272.51) rotate(-18.3)" text-anchor="end" dy="1.8" fill="#cc4a34" stroke="#cc4a34" stroke-width="0.14">IBV/Korea/193/2018</text>
<text transform="translate(191.01 266.87) rotate(-15.67)" text-anchor="end" dy="1.8" fill="#333" stroke="none">MH427463|gammaCoV/ck/China/I0503/17|China|2017</text>
<text transform="translate(189.73 261.88) rotate(-13)" text-anchor="end" dy="1.8" fill="#333" stroke="none">MH427462|gammaCoV/ck/China/I0502/17|China|2017</text>
<text transform="translate(188.69 256.84) rotate(-10.33)" text-anchor="end" dy="1.8" fill="#333" stroke="none">MH427468|gammaCoV/ck/China/I0506/17|China|2017</text>
<text transform="translate(184.81 252.16) rotate(-7.66)" text-anchor="end" dy="1.8" fill="#cf2a50" stroke="#cf2a50" stroke-width="0.14">IBV/Korea/224/2019</text>
<text transform="translate(184.23 246.87) rotate(-4.98)" text-anchor="end" dy="1.8" fill="#cf2a50" stroke="#cf2a50" stroke-width="0.14">IBV/Korea/46/2020</text>
<text transform="translate(183.89 241.57) rotate(-2.3)" text-anchor="end" dy="1.8" fill="#cf2a50" stroke="#cf2a50" stroke-width="0.14">IBV/Korea/135/2019</text>
<text transform="translate(183.8 236.26) rotate(0.38)" text-anchor="end" dy="1.8" fill="#cf2a50" stroke="#cf2a50" stroke-width="0.14">IBV/Korea/40/2019</text>
<text transform="translate(183.96 230.94) rotate(3.05)" text-anchor="end" dy="1.8" fill="#cf2a50" stroke="#cf2a50" stroke-width="0.14">IBV/Korea/68/2020</text>
<text transform="translate(184.37 225.64) rotate(5.73)" text-anchor="end" dy="1.8" fill="#cf2a50" stroke="#cf2a50" stroke-width="0.14">IBV/Korea/108/2019</text>
<text transform="translate(185.02 220.37) rotate(8.41)" text-anchor="end" dy="1.8" fill="#cf2a50" stroke="#cf2a50" stroke-width="0.14">IBV/Korea/25/2020</text>
<text transform="translate(185.92 215.13) rotate(11.09)" text-anchor="end" dy="1.8" fill="#cf2a50" stroke="#cf2a50" stroke-width="0.14">IBV/Korea/84/2020</text>
<text transform="translate(187.07 209.94) rotate(13.77)" text-anchor="end" dy="1.8" fill="#cf2a50" stroke="#cf2a50" stroke-width="0.14">IBV/Korea/63/2020</text>
<text transform="translate(188.45 204.81) rotate(16.45)" text-anchor="end" dy="1.8" fill="#cf2a50" stroke="#cf2a50" stroke-width="0.14">IBV/Korea/73/2020</text>
<text transform="translate(190.08 199.75) rotate(19.12)" text-anchor="end" dy="1.8" fill="#cf2a50" stroke="#cf2a50" stroke-width="0.14">IBV/Korea/77/2020</text>
<text transform="translate(191.93 194.77) rotate(21.8)" text-anchor="end" dy="1.8" fill="#cf2a50" stroke="#cf2a50" stroke-width="0.14">IBV/Korea/111/2020</text>
<text transform="translate(194.02 189.88) rotate(24.48)" text-anchor="end" dy="1.8" fill="#cf2a50" stroke="#cf2a50" stroke-width="0.14">IBV/Korea/95/2020</text>
<text transform="translate(196.34 185.1) rotate(27.16)" text-anchor="end" dy="1.8" fill="#cf2a50" stroke="#cf2a50" stroke-width="0.14">IBV/Korea/96/2020</text>
</g>
<g id="rangelabels" font-family="'Liberation Sans', Arial, sans-serif" font-size="11.5" fill="#0c0c0c" stroke="#0c0c0c" stroke-width="0.1" text-anchor="middle">
<text transform="translate(447.66 63.04) rotate(400.8)" dy="4">KM91-like</text>
<text transform="translate(519.4 180.03) rotate(435.6)" dy="4">K40/09-like</text>
<text transform="translate(502.26 337.97) rotate(-63.75)" dy="4">QX-like I</text>
<text transform="translate(330.56 460.87) rotate(-8.4)" dy="4">QX-like II</text>
<text transform="translate(124.22 382.4) rotate(50)" dy="4">QX-like III</text>
<text transform="translate(72.1 198.27) rotate(279.75)" dy="4" font-style="italic">QX-like IV</text>
</g>
<text x="163.5" y="132.3" font-family="'Liberation Sans', Arial, sans-serif" font-size="20" fill="#d8393f">GI-15</text>
<path d="M224.9 145.1L208.2 161.1" stroke="#d8393f" stroke-width="1.2" fill="none"/>
<text x="485.5" y="433.7" font-family="'Liberation Sans', Arial, sans-serif" font-size="20" fill="#1f6fc2">GI-19</text>
<text x="3.3" y="23.8" font-family="'Liberation Sans', Arial, sans-serif" font-size="6.5" font-weight="bold" fill="#3a3a3a">Tree scale: 0.1</text>
<path d="M53.2 21.5H75.8M53.2 20V23M75.8 20V23M64.5 20.8V22.2" stroke="#555" stroke-width="0.5" fill="none"/>
</svg>
</body></html>
